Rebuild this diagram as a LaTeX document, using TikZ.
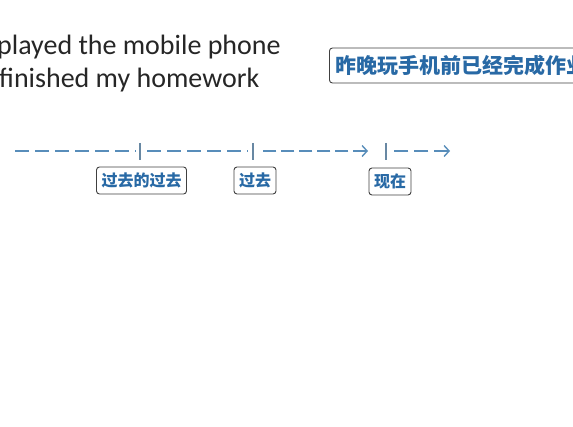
\documentclass[tikz,border=0pt]{standalone}
\usepackage{fontspec}
\setmainfont{Carlito}
\newfontfamily\cjk{Noto Sans CJK SC}
\usepackage{tikz}
\usetikzlibrary{arrows.meta}
\definecolor{tlblue}{RGB}{88,141,186}
\definecolor{tagblue}{RGB}{40,105,165}
\tikzset{
	tline/.style={line width=1.6pt, color=tlblue, dash pattern=on 14pt off 6pt},
	tlarrow/.style={tline, {Straight Barb[length=5pt,width=11pt,line width=1.4pt]}-},
	tltick/.style={line width=1.4pt, color=tlblue!60!gray},
	tagbox/.style={draw=black!75, line width=0.9pt, rounded corners=3pt, fill=white,
		text=tagblue, font=\cjk\bfseries\fontsize{16}{16}\selectfont,
		minimum height=27pt, inner xsep=5pt, inner ysep=0pt}
}

\begin{document}
\begin{tikzpicture}[x=1pt, y=-1pt]
		%%%%% START %%%%%
		
		\useasboundingbox (0, 0) rectangle (573, 427);
		\clip (0, 0) rectangle (573, 427);
		
		\node[anchor=base west, inner sep=0pt, color=black!85, font=\fontsize{28}{28}\selectfont] (played) at (-3, 55) {played the mobile phone};
		\node[anchor=base west, inner sep=0pt, color=black!85, font=\fontsize{28}{28}\selectfont] (finished) at (-1, 88) {finished my homework};
		
		\node[tagbox, anchor=west, minimum height=35pt, inner xsep=6pt, font=\cjk\bfseries\fontsize{21}{21}\selectfont] (recent) at (329, 65.5) {昨晚玩手机前已经完成作业};
		
		\coordinate (s1) at (15, 151);
		\coordinate (e1) at (136, 151);
		\coordinate (s2) at (147, 151);
		\coordinate (e2) at (248, 151);
		\coordinate (s3) at (261, 151);
		\coordinate (e3) at (368, 151);
		\coordinate (s4) at (394, 151);
		\coordinate (e4) at (450, 151);
		
		\draw[tline] (s1) -- (e1);
		\draw[tline] (s2) -- (e2);
		\draw[tlarrow, dash pattern=on 13pt off 5pt] (e3) -- (s3);
		\draw[tlarrow] (e4) -- (s4);
		
		\coordinate (t1) at (140, 143);
		\coordinate (t2) at (253, 143);
		\coordinate (t3) at (386, 143);
		\draw[tltick] (t1) -- ++(0, 17);
		\draw[tltick] (t2) -- ++(0, 17);
		\draw[tltick] (t3) -- ++(0, 17);
		
		\node[tagbox] (pastpast) at (141.5, 180.5) {过去的过去};
		\node[tagbox] (past) at (255, 180.5) {过去};
		\node[tagbox] (now) at (390, 181.5) {现在};
		
		%%%%% END %%%%%
	\end{tikzpicture}
\end{document}
